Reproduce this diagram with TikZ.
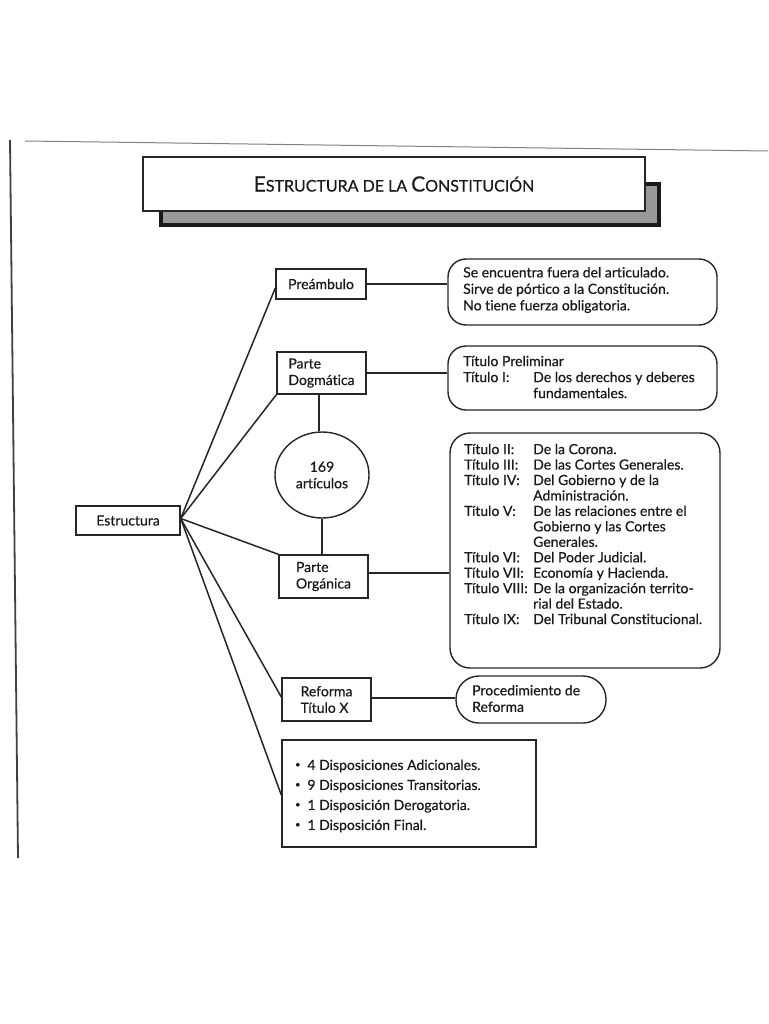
\documentclass[tikz,border=0pt]{standalone}
\usepackage{fontspec}
\setmainfont{Lato}[Ligatures=NoCommon, FakeBold=0.5]
\usetikzlibrary{positioning,shapes.geometric}
\begin{document}
\begin{tikzpicture}[x=1pt,y=-1pt,
  every node/.style={font=\fontsize{14}{16.5}\selectfont, text=black!90},
  rbox/.style={draw=black!85, line width=1.4pt, rectangle, inner sep=0pt, align=left},
  roundbox/.style={draw=black!85, line width=1.4pt, rectangle, rounded corners=18pt, inner sep=0pt},
  txt/.style={align=left, inner sep=0pt, anchor=west},
  conn/.style={draw=black!85, line width=1.5pt},
  frame/.style={draw=black!60, line width=1.2pt}]
\useasboundingbox (0,0) rectangle (768,1024);
% page frame lines
\draw[frame, draw=black!50, line width=1pt] (25,141) -- (768,151);
\draw[frame, draw=black!75, line width=1.8pt] (10,140) -- (18,858);
% title
\draw[fill=black!40, draw=black!90, line width=3.5pt] (161,184) rectangle (659,225);
\node[draw=black!85, line width=1.4pt, fill=white, minimum width=502pt, minimum height=54pt, inner sep=0pt] (title) at (394,184)
  {{\fontsize{21}{24}\selectfont E}{\fontsize{16}{18}\selectfont STRUCTURA DE LA }{\fontsize{21}{24}\selectfont C}{\fontsize{16}{18}\selectfont ONSTITUCIÓN}};
% left nodes
\node[rbox, minimum width=104pt, minimum height=29pt] (est) at (128,520.5) {Estructura};
\node[rbox, minimum width=90pt, minimum height=30pt] (pre) at (321,284) {Preámbulo};
\node[rbox, minimum width=89pt, minimum height=42pt] (dog) at (321.5,373) {Parte\\Dogmática};
\node[draw=black!85, line width=1.4pt, ellipse, minimum width=94pt, minimum height=86pt, inner sep=0pt, align=center] (art) at (322,475) {169\\artículos};
\node[rbox, minimum width=89pt, minimum height=43pt] (org) at (323.5,576.5) {Parte\\Orgánica};
\node[rbox, minimum width=89pt, minimum height=43pt] (ref) at (326.5,699.5) {Reforma\\Título X};
\node[rbox, minimum width=254pt, minimum height=107pt] (disp) at (409,793.5) {};
\node[txt, font=\fontsize{14}{20}\selectfont] (dispt) at (295,796)
  {\raisebox{2.5pt}{\small\textbullet}\hspace{7pt}4 Disposiciones Adicionales.\\
   \raisebox{2.5pt}{\small\textbullet}\hspace{7pt}9 Disposiciones Transitorias.\\
   \raisebox{2.5pt}{\small\textbullet}\hspace{7pt}1 Disposición Derogatoria.\\
   \raisebox{2.5pt}{\small\textbullet}\hspace{7pt}1 Disposición Final.};
% right rounded boxes
\node[roundbox, minimum width=269pt, minimum height=66pt] (b1) at (582.5,292) {};
\node[txt] (b1t) at (463,290)
  {Se encuentra fuera del articulado.\\Sirve de pórtico a la Constitución.\\No tiene fuerza obligatoria.};
\node[roundbox, minimum width=269pt, minimum height=64pt] (b2) at (582.5,378) {};
\node[txt, font=\fontsize{14}{16}\selectfont] (b2t) at (463,377)
  {Título Preliminar\\
   \makebox[70pt][l]{Título I:}De los derechos y deberes\\
   \hspace*{70pt}fundamentales.};
\node[roundbox, minimum width=270pt, minimum height=235pt, rounded corners=20pt] (b3) at (585,550.5) {};
\node[txt, font=\fontsize{14}{15.45}\selectfont] (b3t) at (464,534)
  {\makebox[69pt][l]{Título II:}De la Corona.\\
   \makebox[69pt][l]{Título III:}De las Cortes Generales.\\
   \makebox[69pt][l]{Título IV:}Del Gobierno y de la\\
   \hspace*{69pt}Administración.\\
   \makebox[69pt][l]{Título V:}De las relaciones entre el\\
   \hspace*{69pt}Gobierno y las Cortes\\
   \hspace*{69pt}Generales.\\
   \makebox[69pt][l]{Título VI:}Del Poder Judicial.\\
   \makebox[69pt][l]{Título VII:}Economía y Hacienda.\\
   \makebox[69pt][l]{Título VIII:}De la organización territo-\\
   \hspace*{69pt}rial del Estado.\\
   \makebox[69pt][l]{Título IX:}Del Tribunal Constitucional.};
\node[roundbox, minimum width=150pt, minimum height=47pt, rounded corners=23pt] (b4) at (531,699.5) {};
\node[txt] (b4t) at (472,698.5) {Procedimiento de\\Reforma};
% connectors
\coordinate (hub) at ([yshift=2pt]est.east);
\coordinate (dogb) at ([xshift=-2.5pt]dog.south);
\draw[conn] (hub) -- ([yshift=-4pt]pre.west);
\draw[conn] (hub) -- (dog.south west);
\draw[conn] (hub) -- (org.north west);
\draw[conn] (hub) -- ([yshift=2.5pt]ref.west);
\draw[conn] (hub) -- ([yshift=-1.5pt]disp.west);
\draw[conn] (dogb) -- (dogb |- art.north);
\draw[conn] (art.south) -- (art.south |- org.north);
\draw[conn] (pre.east) -- (pre.east -| b1.west);
\draw[conn] (dog.east) -- (dog.east -| b2.west);
\draw[conn] ([yshift=3.5pt]org.east) -- ([yshift=3.5pt]org.east -| b3.west);
\draw[conn] ([yshift=1.5pt]ref.east) -- ([yshift=1.5pt]ref.east -| b4.west);
\end{tikzpicture}
\end{document}
